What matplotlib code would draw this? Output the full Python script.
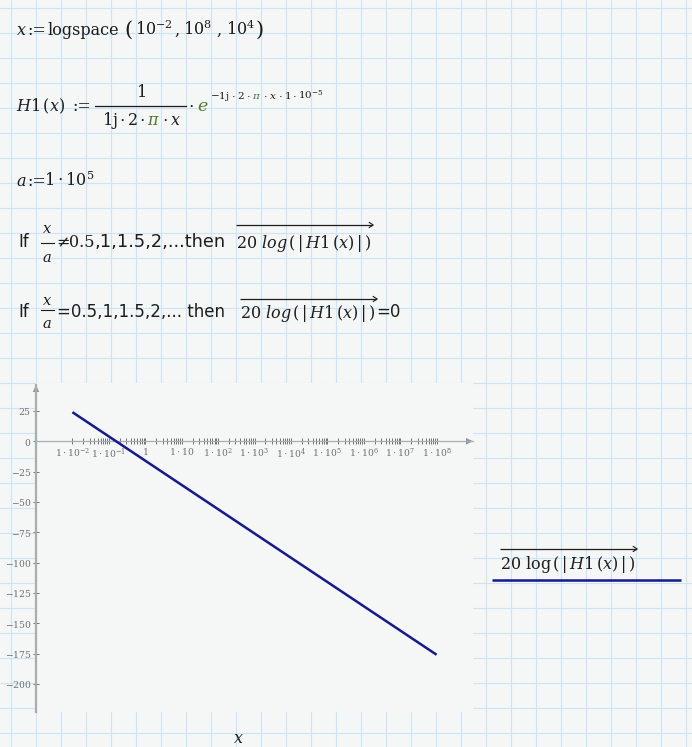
import numpy as np
import matplotlib
matplotlib.use("Agg")
import matplotlib.pyplot as plt
from matplotlib.patches import Rectangle, Polygon
from matplotlib.ticker import FixedLocator, FixedFormatter, NullFormatter

plt.rcParams["mathtext.fontset"] = "dejavuserif"
plt.rcParams["axes.unicode_minus"] = True

# ---------------- data ----------------
freq = [1e-2, 1e-1, 1e0, 1e1, 1e2, 1e3, 1e4, 1e5, 1e6, 1e7, 1e8]
gain_db = [24.0, 4.0, -16.0, -36.0, -56.0, -76.0, -96.0, -116.0, -136.0, -156.0, -176.0]

x_major = [1e-2, 1e-1, 1e0, 1e1, 1e2, 1e3, 1e4, 1e5, 1e6, 1e7, 1e8]
x_labels = [r"$1\cdot10^{-2}$", r"$1\cdot10^{-1}$", r"$1$", r"$1\cdot10$",
            r"$1\cdot10^{2}$", r"$1\cdot10^{3}$", r"$1\cdot10^{4}$",
            r"$1\cdot10^{5}$", r"$1\cdot10^{6}$", r"$1\cdot10^{7}$",
            r"$1\cdot10^{8}$"]
minor_mult = [2, 3, 4, 5, 6, 7, 8, 9]
y_major = [25, 0, -25, -50, -75, -100, -125, -150, -175, -200]
y_labels = [r"$25$", r"$0$", r"$-25$", r"$-50$", r"$-75$", r"$-100$",
            r"$-125$", r"$-150$", r"$-175$", r"$-200$"]
x_range = (1e-3, 1e9)
y_range = (-223.2, 46.4)

# ---------------- styling ----------------
W, H = 692, 747
BG = "#f4f7f5"
GRID = "#cfe3f6"
TXT = "#1c1c1c"
GREEN = "#4d7a2a"
AXC = "#a6aeb3"
TICKC = "#6f6f6f"
LINEC = "#17178f"
SERIF = "DejaVu Serif"
SANS = "DejaVu Sans"
FS = 11.5      # math text
FSS = 12       # sans text

AX_L, AX_R, AX_T, AX_B = 36, 473, 385, 712

fig = plt.figure(figsize=(W / 100, H / 100), dpi=100)
fig.patch.set_facecolor(BG)
bg = fig.add_axes([0, 0, 1, 1])
bg.set_xlim(0, W)
bg.set_ylim(H, 0)
bg.axis("off")

# worksheet grid
for gx in range(11, W, 25):
    bg.plot([gx, gx], [0, H], color=GRID, lw=0.8, zorder=0)
for gy in range(8, H, 25):
    bg.plot([0, W], [gy, gy], color=GRID, lw=0.8, zorder=0)

# plot region (hides grid)
bg.add_patch(Rectangle((AX_L, 383), 473 - AX_L, 712 - 383, facecolor=BG,
                       edgecolor="none", zorder=1))

# ---------------- chart ----------------
ax = fig.add_axes([AX_L / W, 1 - AX_B / H, (AX_R - AX_L) / W, (AX_B - AX_T) / H])
ax.patch.set_visible(False)
ax.set_xscale("log")
ax.set_xlim(*x_range)
ax.set_ylim(*y_range)
for s in ["top", "right"]:
    ax.spines[s].set_visible(False)
ax.spines["left"].set_color(AXC)
ax.spines["left"].set_linewidth(1.6)
ax.spines["bottom"].set_position(("data", 0))
ax.spines["bottom"].set_color(AXC)
ax.spines["bottom"].set_linewidth(0.9)

x_minor = [m * d for d in x_major[:-1] for m in minor_mult]
ax.xaxis.set_major_locator(FixedLocator(x_major))
ax.xaxis.set_major_formatter(FixedFormatter(x_labels))
ax.xaxis.set_minor_locator(FixedLocator(x_minor))
ax.xaxis.set_minor_formatter(NullFormatter())
ax.yaxis.set_major_locator(FixedLocator(y_major))
ax.yaxis.set_major_formatter(FixedFormatter(y_labels))
ax.tick_params(axis="x", which="both", direction="inout", length=4.5, width=0.7,
               color=TICKC, labelcolor=TICKC, labelsize=6.7, pad=1.5)
ax.tick_params(axis="y", which="major", direction="inout", length=5, width=0.7,
               color=TICKC, labelcolor=TICKC, labelsize=6.7, pad=0.8)

ax.plot(freq, gain_db, color=LINEC, lw=1.8, solid_capstyle="butt", zorder=3)

# axis arrows (pixel space on bg)
bg.add_patch(Polygon([[AX_L - 3.2, 392], [AX_L + 3.2, 392], [AX_L, 385]],
                     closed=True, facecolor="#8d9599", edgecolor="none", zorder=5))
y0 = H - ax.transData.transform((1, 0))[1]
bg.add_patch(Polygon([[466, y0 - 3.3], [466, y0 + 3.3], [473, y0]],
                     closed=True, facecolor="#8d9599", edgecolor="none", zorder=5))

bg.text(238, 743, r"$x$", fontsize=FS, color=TXT, ha="center", va="baseline")

# ---------------- worksheet text ----------------
fig.canvas.draw()
rend = fig.canvas.get_renderer()


def put(x, y, s, fs=FS, color=TXT, ha="left", **kw):
    t = bg.text(x, y, s, fontsize=fs, color=color, ha=ha, va="baseline", **kw)
    return t, t.get_window_extent(renderer=rend)


def seq(x, y, pieces, fs=FS, center=None, gap=0.0):
    texts = []
    x0 = x
    for p in pieces:
        s, c = p[0], p[1]
        kw = dict(p[2]) if len(p) > 2 else {}
        f = kw.pop("fs", fs)
        t, bb = put(x, y, s, fs=f, color=c, **kw)
        texts.append(t)
        x = bb.x1 + gap
    x -= gap
    if center is not None:
        shift = center - (x0 + x) / 2
        for t in texts:
            t.set_x(t.get_position()[0] + shift)
        x += shift
    return x


def overarrow(x0, x1, y):
    bg.plot([x0, x1 - 1], [y, y], color=TXT, lw=0.9, solid_capstyle="butt")
    bg.plot([x1 - 4, x1, x1 - 4], [y - 2.5, y, y + 2.5], color=TXT, lw=0.8)


# line 1
put(16, 35, r"$x$")
put(27, 35, ":=", family=SERIF)
put(47, 35, "logspace", family=SERIF)
put(124, 36, "(", fs=15, family=SERIF)
put(135, 35, r"$10^{-2}$")
put(174, 35, ",", family=SERIF)
put(183, 35, r"$10^{8}$")
put(216, 35, ",", family=SERIF)
put(226, 35, r"$10^{4}$")
put(256, 36, ")", fs=15, family=SERIF)

# line 2
put(16, 111, r"$H1\,(x)$")
put(72, 111, ":=", family=SERIF)
put(141, 97, r"$1$", ha="center")
bg.plot([95, 186], [105.5, 105.5], color=TXT, lw=0.9)
seq(98, 125, [(r"$1\mathrm{j}$", TXT), (r"$\cdot$", TXT), (r"$2$", TXT),
              (r"$\cdot$", TXT), (r"$\pi$", GREEN), (r"$\cdot$", TXT),
              (r"$x$", TXT)], center=141, gap=2.0)
put(188, 111, r"$\cdot$")
put(197, 111, r"$e$", fs=12.5, color=GREEN)
seq(210, 99, [(r"$-1\mathrm{j}$", TXT), (r"$\cdot$", TXT), (r"$2$", TXT),
              (r"$\cdot$", TXT), (r"$\pi$", GREEN), (r"$\cdot$", TXT),
              (r"$x$", TXT), (r"$\cdot$", TXT), (r"$1$", TXT),
              (r"$\cdot$", TXT), (r"$10^{-5}$", TXT)], fs=7.5, gap=1.5)

# line 3
put(16, 186, r"$a$")
put(27, 186, ":=", family=SERIF)
put(44, 186, r"$1\cdot10^{5}$")

EXPR_IT = r"$20\ \mathit{log}\,(\,|\,H1\,(x)\,|\,)$"
EXPR_UP = r"$20\ \mathrm{log}\,(\,|\,H1\,(x)\,|\,)$"

# line 4
put(18, 247, "If", fs=FSS, family=SANS)
put(47, 233, r"$x$", fs=10.5, ha="center")
bg.plot([41, 54], [242.5, 242.5], color=TXT, lw=0.8)
put(47, 262, r"$a$", fs=10.5, ha="center")
seq(56, 247, [("\u2260", TXT, {"family": SERIF}),
              ("0.5", TXT, {"family": SERIF}),
              (",1,1.5,2,...then", TXT, {"family": SANS, "fs": 12.8})])
t, bb = put(236, 248, EXPR_IT)
overarrow(bb.x0, bb.x1 + 2, 225)

# line 5
put(18, 317, "If", fs=FSS, family=SANS)
put(47, 305, r"$x$", fs=10.5, ha="center")
bg.plot([41, 54], [310, 310], color=TXT, lw=0.8)
put(47, 328, r"$a$", fs=10.5, ha="center")
put(57, 317, "=0.5,1,1.5,2,... then", fs=FSS, family=SANS)
t, bb = put(240, 318, EXPR_IT)
overarrow(bb.x0, bb.x1 + 2, 299)
put(bb.x1 + 1, 317, "=0", fs=FSS, family=SANS)

# legend
t, bb = put(500, 569, EXPR_UP)
overarrow(bb.x0, bb.x1 + 2, 549)
bg.plot([492, 681], [580, 580], color=LINEC, lw=1.8, solid_capstyle="butt")

fig.savefig("out.png", dpi=100, facecolor=BG)
